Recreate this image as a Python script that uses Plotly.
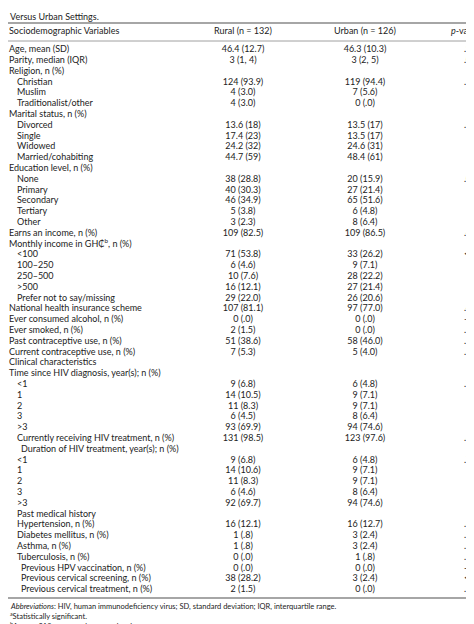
import plotly.graph_objects as go

A = "<sup>a</sup>"; B = "<sup>b</sup>"

labels = ["Age, mean (SD)", "Parity, median (IQR)", "Religion, n (%)", "Christian", "Muslim",
    "Traditionalist/other", "Marital status, n (%)", "Divorced", "Single", "Widowed", "Married/cohabiting",
    "Education level, n (%)", "None", "Primary", "Secondary", "Tertiary", "Other", "Earns an income, n (%)",
    "Monthly income in GH₵" + B + ", n (%)", "&lt;100", "100–250", "250–500", ">500", "Prefer not to say/missing",
    "National health insurance scheme", "Ever consumed alcohol, n (%)", "Ever smoked, n (%)",
    "Past contraceptive use, n (%)", "Current contraceptive use, n (%)", "Clinical characteristics",
    "Time since HIV diagnosis, year(s); n (%)", "&lt;1", "1", "2", "3", ">3",
    "Currently receiving HIV treatment, n (%)", "Duration of HIV treatment, year(s); n (%)",
    "&lt;1", "1", "2", "3", ">3", "Past medical history", "Hypertension, n (%)", "Diabetes mellitus, n (%)",
    "Asthma, n (%)", "Tuberculosis, n (%)", "Previous HPV vaccination, n (%)",
    "Previous cervical screening, n (%)", "Previous cervical treatment, n (%)"]
indent = [0,0,0,1,1,1,0,1,1,1,1,0,1,1,1,1,1,0,0,1,1,1,1,1,0,0,0,0,0,0,0,1,1,1,1,1,1,1.5,1,1,1,1,1,1,1,1,1,1,1.5,1.5,1.5]
rural = ["46.4 (12.7)", "3 (1, 4)", "", "124 (93.9)", "4 (3.0)", "4 (3.0)", "", "13.6 (18)", "17.4 (23)",
    "24.2 (32)", "44.7 (59)", "", "38 (28.8)", "40 (30.3)", "46 (34.9)", "5 (3.8)", "3 (2.3)", "109 (82.5)", "",
    "71 (53.8)", "6 (4.6)", "10 (7.6)", "16 (12.1)", "29 (22.0)", "107 (81.1)", "0 (.0)", "2 (1.5)", "51 (38.6)",
    "7 (5.3)", "", "", "9 (6.8)", "14 (10.5)", "11 (8.3)", "6 (4.5)", "93 (69.9)", "131 (98.5)", "",
    "9 (6.8)", "14 (10.6)", "11 (8.3)", "6 (4.6)", "92 (69.7)", "", "16 (12.1)", "1 (.8)", "1 (.8)", "0 (.0)",
    "0 (.0)", "38 (28.2)", "2 (1.5)"]
urban = ["46.3 (10.3)", "3 (2, 5)", "", "119 (94.4)", "7 (5.6)", "0 (.0)", "", "13.5 (17)", "13.5 (17)",
    "24.6 (31)", "48.4 (61)", "", "20 (15.9)", "27 (21.4)", "65 (51.6)", "6 (4.8)", "8 (6.4)", "109 (86.5)", "",
    "33 (26.2)", "9 (7.1)", "28 (22.2)", "27 (21.4)", "26 (20.6)", "97 (77.0)", "0 (.0)", "0 (.0)", "58 (46.0)",
    "5 (4.0)", "", "", "6 (4.8)", "9 (7.1)", "9 (7.1)", "8 (6.4)", "94 (74.6)", "123 (97.6)", "",
    "6 (4.8)", "9 (7.1)", "9 (7.1)", "8 (6.4)", "94 (74.6)", "", "16 (12.7)", "3 (2.4)", "3 (2.4)", "1 (.8)",
    "0 (.0)", "3 (2.4)", "0 (.0)"]
pvals = [".948", ".036" + A, "", ".188", "", "", "", ".840", "", "", "", "", ".009" + A, "", "", "", "", ".491",
    "", "&lt;.001" + A, "", "", "", "", ".421", "—", ".165", ".229", ".611", "", "", ".738", "", "", "", "", ".608", "",
    ".738", "", "", "", "", "", ".888", ".291", ".291", ".305", "-", "&lt;.001" + A, ".165"]
header = ["Sociodemographic Variables", "Rural (n = 132)", "Urban (n = 126)", "<i>p</i>-value"]

H = 624
ROW0, STEP = 42, 10.8
rows = list(range(1, len(labels) + 1))
hdr_y = (24 - ROW0) / STEP + 1
fnt = dict(family="Lato, Open Sans, sans-serif", size=9, color="#222")

fig = go.Figure()
def txt(x, y, t, pos):
    fig.add_trace(go.Scatter(x=x, y=y, text=t, mode="text", textposition=pos, textfont=fnt,
                             hoverinfo="skip", showlegend=False, cliponaxis=False))
n = len(labels)
txt([1 + 8 * i for i in indent], rows, labels, "middle right")
txt([235] * n, rows, rural, "middle center")
txt([357] * n, rows, urban, "middle center")
txt([456] * n, rows, pvals, "middle right")
txt([1, 235, 357, 472], [hdr_y] * 4, header, ["middle right", "middle center", "middle center", "middle left"])

def hline(y, w, c="#888"):
    fig.add_shape(type="line", xref="paper", yref="paper", x0=0, x1=1, y0=1 - y / H, y1=1 - y / H,
                  line=dict(color=c, width=w))
hline(15, 1.5); hline(33, 0.8); hline(590, 1.5)

notes = ["<i>Abbreviations</i>: HIV, human immunodeficiency virus; SD, standard deviation; IQR, interquartile range.",
         A + "Statistically significant.", B + "Among 218 women who earned an income."]
for k, t in enumerate(notes):
    fig.add_annotation(text=t, xref="paper", yref="paper", x=0, y=1 - (598 + 10 * k) / H, xanchor="left",
                       yanchor="middle", showarrow=False, font=dict(family=fnt["family"], size=7.5, color="#222"))
fig.add_annotation(text="Versus Urban Settings.", xref="paper", yref="paper", x=0, y=1 - 9 / H,
                   xanchor="left", yanchor="middle", showarrow=False, font=dict(family=fnt["family"], size=9, color="#222"))
fig.update_xaxes(range=[0, 474], visible=False, fixedrange=True)
fig.update_yaxes(range=[(H - ROW0) / STEP + 1, 1 - ROW0 / STEP], visible=False, fixedrange=True)
fig.update_layout(width=474, height=624, margin=dict(l=0, r=0, t=0, b=0), paper_bgcolor="white",
                  plot_bgcolor="white")
fig.write_html("out.html")
